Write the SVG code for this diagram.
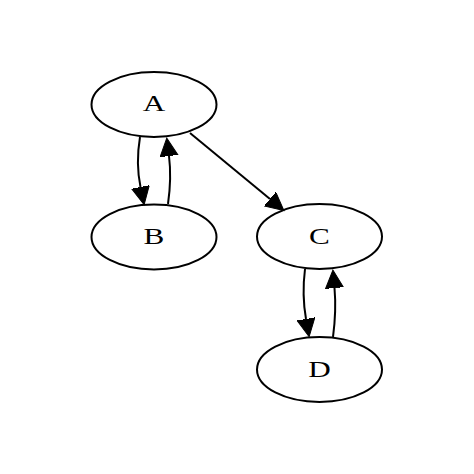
<svg xmlns="http://www.w3.org/2000/svg" width="474" height="474" viewBox="0 0 474 474">
<style>
.node ellipse{fill:none;stroke:#000;stroke-width:2}
.node text{font-family:"Liberation Serif","Times New Roman",serif;font-size:24px;text-anchor:middle;fill:#000}
.edge{fill:none;stroke:#000;stroke-width:2;marker-end:url(#ah)}
</style>
<defs>
<marker id="ah" markerUnits="userSpaceOnUse" orient="auto" markerWidth="20" markerHeight="20" refX="0" refY="9" viewBox="0 0 20 20">
<path d="M0,0 L18,9 L0,18 z" fill="#000" stroke="#000" stroke-width="1"/>
</marker>
</defs>
<rect width="474" height="474" fill="#fff"/>
<g id="connectors">
<path class="edge" d="M140,137 C137,155 137,170 140.5,187"/>
<path class="edge" d="M168,204 C170,190 171,172 169,156"/>
<path class="edge" d="M190,133 L270,199"/>
<path class="edge" d="M305,269 C303,285 303,302 306,319"/>
<path class="edge" d="M333,337 C335,322 336,305 334.5,288"/>
</g>
<g id="A" class="node"><ellipse cx="154" cy="104.5" rx="62.5" ry="32.5"/><text transform="translate(154,111) scale(1.3,1)">A</text></g>
<g id="B" class="node"><ellipse cx="154" cy="237" rx="62.5" ry="32.5"/><text transform="translate(154,244) scale(1.3,1)">B</text></g>
<g id="C" class="node"><ellipse cx="319.5" cy="236.5" rx="62.5" ry="32.5"/><text transform="translate(319.5,244) scale(1.3,1)">C</text></g>
<g id="D" class="node"><ellipse cx="319.5" cy="369.5" rx="62.5" ry="32.5"/><text transform="translate(319.5,377) scale(1.3,1)">D</text></g>
</svg>
